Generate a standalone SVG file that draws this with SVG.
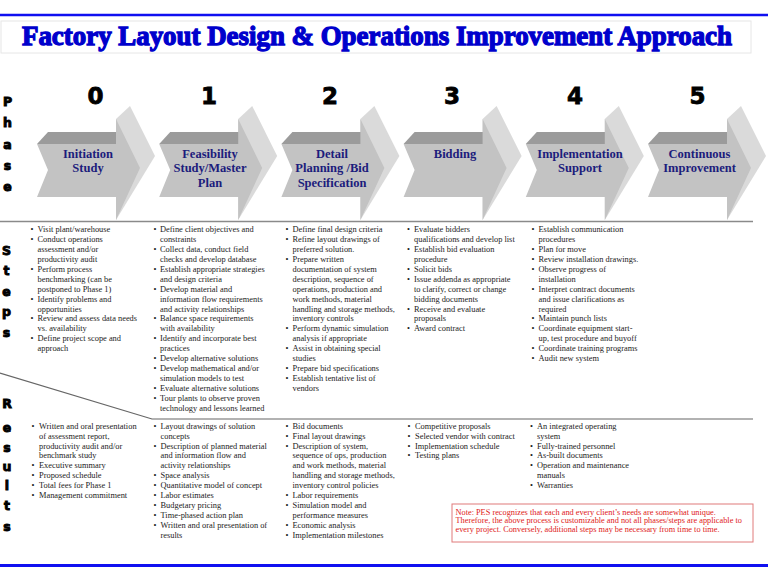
<svg xmlns="http://www.w3.org/2000/svg" xmlns:xlink="http://www.w3.org/1999/xlink" width="768" height="576" viewBox="0 0 768 576">
<style>
.num{font-family:"DejaVu Sans","Liberation Sans",sans-serif;font-weight:bold;font-size:23px;fill:#000;text-anchor:middle;stroke:#000;stroke-width:0.8}
.lbl{font-family:"Liberation Serif","Times New Roman",serif;font-weight:bold;font-size:12.5px;fill:#1c1c7c;text-anchor:middle}
.side{font-family:"DejaVu Sans","Liberation Sans",sans-serif;font-weight:bold;font-size:12.5px;fill:#000;text-anchor:middle;stroke:#000;stroke-width:0.9}
.t{font-family:"Liberation Serif","Times New Roman",serif;font-size:8.4px;fill:#222}
.note{font-family:"Liberation Serif","Times New Roman",serif;font-size:8.3px;fill:#e01818}
.front{fill:#c3c3c3}
.topf{fill:#9b9b9b}
.lite{fill:#dadada}
</style>
<defs>
<g id="arrow">
<polygon class="lite" points="116,119 130,106 155,156 116,220"/>
<polygon class="topf" points="37,144 48,132 117,132 117,144"/>
<polygon class="front" points="37,144 116,144 116,119 140,168 116,220 116,197 37,197 48,170"/>
</g>
</defs>
<rect width="768" height="576" fill="#fff"/>
<line x1="0" y1="15" x2="768" y2="15" stroke="#1010f0" stroke-width="2.5"/>
<rect x="1" y="21" width="750" height="32" fill="#fff" stroke="#e6e6e6" stroke-width="1"/>
<text x="22" y="44.5" font-family="Liberation Serif,serif" font-weight="bold" font-size="27" fill="#0000cc" stroke="#0000cc" stroke-width="1.3" textLength="710" lengthAdjust="spacingAndGlyphs">Factory Layout Design &amp; Operations Improvement Approach</text>
<line x1="0" y1="565.5" x2="768" y2="565.5" stroke="#1010f0" stroke-width="3"/>

<g id="row-labels">
<text class="side"><tspan x="7.5" y="105.5">P</tspan><tspan x="7.5" y="127">h</tspan><tspan x="7.5" y="148.5">a</tspan><tspan x="7.5" y="170">s</tspan><tspan x="7.5" y="191">e</tspan></text>
<text class="side"><tspan x="6.5" y="255">S</tspan><tspan x="6.5" y="275">t</tspan><tspan x="6.5" y="296">e</tspan><tspan x="6.5" y="316">p</tspan><tspan x="6.5" y="337">s</tspan></text>
<text class="side"><tspan x="7" y="408">R</tspan><tspan x="7" y="432">e</tspan><tspan x="7" y="452">s</tspan><tspan x="7" y="471">u</tspan><tspan x="7" y="490">l</tspan><tspan x="7" y="510">t</tspan><tspan x="7" y="531">s</tspan></text>
</g>

<g id="connectors">
<line x1="0" y1="221.5" x2="753" y2="221.5" stroke="#8a8a8a" stroke-width="1.5"/>
<polyline points="0,373 152,419 753,419" fill="none" stroke="#666" stroke-width="1.2"/>
</g>

<g id="phase-0">
<use xlink:href="#arrow" href="#arrow"/>
<text class="num" x="95.5" y="103.5">0</text>
<text class="lbl"><tspan x="88" y="157.5">Initiation</tspan><tspan x="88" y="172">Study</tspan></text>
</g>
<g id="phase-1">
<use xlink:href="#arrow" href="#arrow" x="122.2"/>
<text class="num" x="209" y="103.5">1</text>
<text class="lbl"><tspan x="210" y="157.5">Feasibility</tspan><tspan x="210" y="172">Study/Master</tspan><tspan x="210" y="186.5">Plan</tspan></text>
</g>
<g id="phase-2">
<use xlink:href="#arrow" href="#arrow" x="244.4"/>
<text class="num" x="330" y="103.5">2</text>
<text class="lbl"><tspan x="332" y="157.5">Detail</tspan><tspan x="332" y="172">Planning /Bid</tspan><tspan x="332" y="186.5">Specification</tspan></text>
</g>
<g id="phase-3">
<use xlink:href="#arrow" href="#arrow" x="366.6"/>
<text class="num" x="452" y="103.5">3</text>
<text class="lbl"><tspan x="455" y="157.5">Bidding</tspan></text>
</g>
<g id="phase-4">
<use xlink:href="#arrow" href="#arrow" x="488.8"/>
<text class="num" x="575" y="103.5">4</text>
<text class="lbl"><tspan x="580" y="157.5">Implementation</tspan><tspan x="580" y="172">Support</tspan></text>
</g>
<g id="phase-5">
<use xlink:href="#arrow" href="#arrow" x="611"/>
<text class="num" x="697.5" y="103.5">5</text>
<text class="lbl"><tspan x="699.5" y="157.5">Continuous</tspan><tspan x="699.5" y="172">Improvement</tspan></text>
</g>

<g id="steps-0">
<text class="t">
<tspan x="30.5" y="232.3">•</tspan><tspan x="37.5" y="232.3">Visit plant/warehouse</tspan>
<tspan x="30.5" y="242.2">•</tspan><tspan x="37.5" y="242.2">Conduct operations</tspan>
<tspan x="37.5" y="252.1">assessment and/or</tspan>
<tspan x="37.5" y="262">productivity audit</tspan>
<tspan x="30.5" y="271.9">•</tspan><tspan x="37.5" y="271.9">Perform process</tspan>
<tspan x="37.5" y="281.8">benchmarking (can be</tspan>
<tspan x="37.5" y="291.7">postponed to Phase 1)</tspan>
<tspan x="30.5" y="301.6">•</tspan><tspan x="37.5" y="301.6">Identify problems and</tspan>
<tspan x="37.5" y="311.5">opportunities</tspan>
<tspan x="30.5" y="321.4">•</tspan><tspan x="37.5" y="321.4">Review and assess data needs</tspan>
<tspan x="37.5" y="331.3">vs. availability</tspan>
<tspan x="30.5" y="341.2">•</tspan><tspan x="37.5" y="341.2">Define project scope and</tspan>
<tspan x="37.5" y="351.1">approach</tspan>
</text>
</g>
<g id="steps-1">
<text class="t">
<tspan x="153.5" y="232.3">•</tspan><tspan x="160" y="232.3">Define client objectives and</tspan>
<tspan x="160" y="242.2">constraints</tspan>
<tspan x="153.5" y="252.1">•</tspan><tspan x="160" y="252.1">Collect data, conduct field</tspan>
<tspan x="160" y="262">checks and develop database</tspan>
<tspan x="153.5" y="271.9">•</tspan><tspan x="160" y="271.9">Establish appropriate strategies</tspan>
<tspan x="160" y="281.8">and design criteria</tspan>
<tspan x="153.5" y="291.7">•</tspan><tspan x="160" y="291.7">Develop material and</tspan>
<tspan x="160" y="301.6">information flow requirements</tspan>
<tspan x="160" y="311.5">and activity relationships</tspan>
<tspan x="153.5" y="321.4">•</tspan><tspan x="160" y="321.4">Balance space requirements</tspan>
<tspan x="160" y="331.3">with availability</tspan>
<tspan x="153.5" y="341.2">•</tspan><tspan x="160" y="341.2">Identify and incorporate best</tspan>
<tspan x="160" y="351.1">practices</tspan>
<tspan x="153.5" y="361">•</tspan><tspan x="160" y="361">Develop alternative solutions</tspan>
<tspan x="153.5" y="370.9">•</tspan><tspan x="160" y="370.9">Develop mathematical and/or</tspan>
<tspan x="160" y="380.8">simulation models to test</tspan>
<tspan x="153.5" y="390.7">•</tspan><tspan x="160" y="390.7">Evaluate alternative solutions</tspan>
<tspan x="153.5" y="400.6">•</tspan><tspan x="160" y="400.6">Tour plants to observe proven</tspan>
<tspan x="160" y="410.5">technology and lessons learned</tspan>
</text>
</g>
<g id="steps-2">
<text class="t">
<tspan x="285.5" y="232.3">•</tspan><tspan x="292.5" y="232.3">Define final design criteria</tspan>
<tspan x="285.5" y="242.2">•</tspan><tspan x="292.5" y="242.2">Refine layout drawings of</tspan>
<tspan x="292.5" y="252.1">preferred solution.</tspan>
<tspan x="285.5" y="262">•</tspan><tspan x="292.5" y="262">Prepare written</tspan>
<tspan x="292.5" y="271.9">documentation of system</tspan>
<tspan x="292.5" y="281.8">description, sequence of</tspan>
<tspan x="292.5" y="291.7">operations, production and</tspan>
<tspan x="292.5" y="301.6">work methods, material</tspan>
<tspan x="292.5" y="311.5">handling and storage methods,</tspan>
<tspan x="292.5" y="321.4">inventory controls</tspan>
<tspan x="285.5" y="331.3">•</tspan><tspan x="292.5" y="331.3">Perform dynamic simulation</tspan>
<tspan x="292.5" y="341.2">analysis if appropriate</tspan>
<tspan x="285.5" y="351.1">•</tspan><tspan x="292.5" y="351.1">Assist in obtaining special</tspan>
<tspan x="292.5" y="361">studies</tspan>
<tspan x="285.5" y="370.9">•</tspan><tspan x="292.5" y="370.9">Prepare bid specifications</tspan>
<tspan x="285.5" y="380.8">•</tspan><tspan x="292.5" y="380.8">Establish tentative list of</tspan>
<tspan x="292.5" y="390.7">vendors</tspan>
</text>
</g>
<g id="steps-3">
<text class="t">
<tspan x="407" y="232.3">•</tspan><tspan x="414" y="232.3">Evaluate bidders</tspan>
<tspan x="414" y="242.2">qualifications and develop list</tspan>
<tspan x="407" y="252.1">•</tspan><tspan x="414" y="252.1">Establish bid evaluation</tspan>
<tspan x="414" y="262">procedure</tspan>
<tspan x="407" y="271.9">•</tspan><tspan x="414" y="271.9">Solicit bids</tspan>
<tspan x="407" y="281.8">•</tspan><tspan x="414" y="281.8">Issue addenda as appropriate</tspan>
<tspan x="414" y="291.7">to clarify, correct or change</tspan>
<tspan x="414" y="301.6">bidding documents</tspan>
<tspan x="407" y="311.5">•</tspan><tspan x="414" y="311.5">Receive and evaluate</tspan>
<tspan x="414" y="321.4">proposals</tspan>
<tspan x="407" y="331.3">•</tspan><tspan x="414" y="331.3">Award contract</tspan>
</text>
</g>
<g id="steps-4">
<text class="t">
<tspan x="531.5" y="232.3">•</tspan><tspan x="538.5" y="232.3">Establish communication</tspan>
<tspan x="538.5" y="242.2">procedures</tspan>
<tspan x="531.5" y="252.1">•</tspan><tspan x="538.5" y="252.1">Plan for move</tspan>
<tspan x="531.5" y="262">•</tspan><tspan x="538.5" y="262">Review installation drawings.</tspan>
<tspan x="531.5" y="271.9">•</tspan><tspan x="538.5" y="271.9">Observe progress of</tspan>
<tspan x="538.5" y="281.8">installation</tspan>
<tspan x="531.5" y="291.7">•</tspan><tspan x="538.5" y="291.7">Interpret contract documents</tspan>
<tspan x="538.5" y="301.6">and issue clarifications as</tspan>
<tspan x="538.5" y="311.5">required</tspan>
<tspan x="531.5" y="321.4">•</tspan><tspan x="538.5" y="321.4">Maintain punch lists</tspan>
<tspan x="531.5" y="331.3">•</tspan><tspan x="538.5" y="331.3">Coordinate equipment start-</tspan>
<tspan x="538.5" y="341.2">up, test procedure and buyoff</tspan>
<tspan x="531.5" y="351.1">•</tspan><tspan x="538.5" y="351.1">Coordinate training programs</tspan>
<tspan x="531.5" y="361">•</tspan><tspan x="538.5" y="361">Audit new system</tspan>
</text>
</g>

<g id="results-0">
<text class="t">
<tspan x="31.5" y="428.6">•</tspan><tspan x="39" y="428.6">Written and oral presentation</tspan>
<tspan x="39" y="438.5">of assessment report,</tspan>
<tspan x="39" y="448.5">productivity audit and/or</tspan>
<tspan x="39" y="458.4">benchmark study</tspan>
<tspan x="31.5" y="468.4">•</tspan><tspan x="39" y="468.4">Executive summary</tspan>
<tspan x="31.5" y="478.3">•</tspan><tspan x="39" y="478.3">Proposed schedule</tspan>
<tspan x="31.5" y="488.3">•</tspan><tspan x="39" y="488.3">Total fees for Phase 1</tspan>
<tspan x="31.5" y="498.2">•</tspan><tspan x="39" y="498.2">Management commitment</tspan>
</text>
</g>
<g id="results-1">
<text class="t">
<tspan x="153.5" y="428.6">•</tspan><tspan x="160.5" y="428.6">Layout drawings of solution</tspan>
<tspan x="160.5" y="438.5">concepts</tspan>
<tspan x="153.5" y="448.5">•</tspan><tspan x="160.5" y="448.5">Description of planned material</tspan>
<tspan x="160.5" y="458.4">and information flow and</tspan>
<tspan x="160.5" y="468.4">activity relationships</tspan>
<tspan x="153.5" y="478.3">•</tspan><tspan x="160.5" y="478.3">Space analysis</tspan>
<tspan x="153.5" y="488.3">•</tspan><tspan x="160.5" y="488.3">Quantitative model of concept</tspan>
<tspan x="153.5" y="498.2">•</tspan><tspan x="160.5" y="498.2">Labor estimates</tspan>
<tspan x="153.5" y="508.2">•</tspan><tspan x="160.5" y="508.2">Budgetary pricing</tspan>
<tspan x="153.5" y="518.1">•</tspan><tspan x="160.5" y="518.1">Time-phased action plan</tspan>
<tspan x="153.5" y="528.1">•</tspan><tspan x="160.5" y="528.1">Written and oral presentation of</tspan>
<tspan x="160.5" y="538">results</tspan>
</text>
</g>
<g id="results-2">
<text class="t">
<tspan x="285.5" y="428.6">•</tspan><tspan x="292.5" y="428.6">Bid documents</tspan>
<tspan x="285.5" y="438.5">•</tspan><tspan x="292.5" y="438.5">Final layout drawings</tspan>
<tspan x="285.5" y="448.5">•</tspan><tspan x="292.5" y="448.5">Description of system,</tspan>
<tspan x="292.5" y="458.4">sequence of ops, production</tspan>
<tspan x="292.5" y="468.4">and work methods, material</tspan>
<tspan x="292.5" y="478.3">handling and storage methods,</tspan>
<tspan x="292.5" y="488.3">inventory control policies</tspan>
<tspan x="285.5" y="498.2">•</tspan><tspan x="292.5" y="498.2">Labor requirements</tspan>
<tspan x="285.5" y="508.2">•</tspan><tspan x="292.5" y="508.2">Simulation model and</tspan>
<tspan x="292.5" y="518.1">performance measures</tspan>
<tspan x="285.5" y="528.1">•</tspan><tspan x="292.5" y="528.1">Economic analysis</tspan>
<tspan x="285.5" y="538">•</tspan><tspan x="292.5" y="538">Implementation milestones</tspan>
</text>
</g>
<g id="results-3">
<text class="t">
<tspan x="407.5" y="428.6">•</tspan><tspan x="415" y="428.6">Competitive proposals</tspan>
<tspan x="407.5" y="438.5">•</tspan><tspan x="415" y="438.5">Selected vendor with contract</tspan>
<tspan x="407.5" y="448.5">•</tspan><tspan x="415" y="448.5">Implementation schedule</tspan>
<tspan x="407.5" y="458.4">•</tspan><tspan x="415" y="458.4">Testing plans</tspan>
</text>
</g>
<g id="results-4">
<text class="t">
<tspan x="530" y="428.6">•</tspan><tspan x="537" y="428.6">An integrated operating</tspan>
<tspan x="537" y="438.5">system</tspan>
<tspan x="530" y="448.5">•</tspan><tspan x="537" y="448.5">Fully-trained personnel</tspan>
<tspan x="530" y="458.4">•</tspan><tspan x="537" y="458.4">As-built documents</tspan>
<tspan x="530" y="468.4">•</tspan><tspan x="537" y="468.4">Operation and maintenance</tspan>
<tspan x="537" y="478.3">manuals</tspan>
<tspan x="530" y="488.3">•</tspan><tspan x="537" y="488.3">Warranties</tspan>
</text>
</g>

<g id="note">
<rect x="452" y="504" width="301" height="38" fill="#fff" stroke="#e07a7a" stroke-width="1"/>
<text class="note"><tspan x="455.5" y="514.5">Note: PES recognizes that each and every client’s needs are somewhat unique.</tspan><tspan x="455.5" y="523">Therefore, the above process is customizable and not all phases/steps are applicable to</tspan><tspan x="455.5" y="531.5">every project. Conversely, additional steps may be necessary from time to time.</tspan></text>
</g>
</svg>
